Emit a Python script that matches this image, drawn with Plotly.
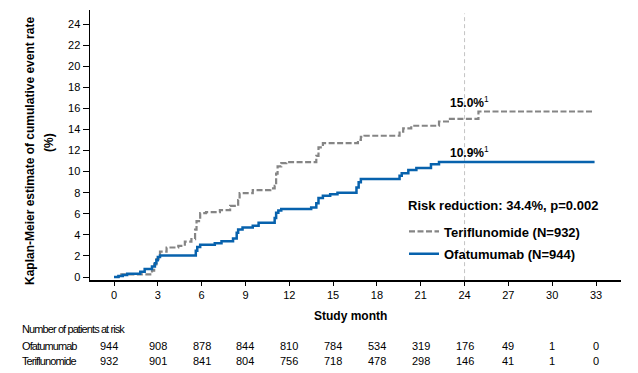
import plotly.graph_objects as go

# ---------------- data ----------------
ofa_t = [0.0, 0.3, 0.6, 0.9, 1.8, 2.1, 2.6, 2.8, 2.9, 3.0, 3.15, 5.6, 5.7, 5.9, 6.9, 7.36, 8.15, 8.4, 8.5, 8.8,
         9.5, 9.9, 11.0, 11.1, 11.25, 11.45, 13.5, 13.85, 14.0, 14.3, 14.8, 15.3, 16.6, 16.75, 16.9,
         19.55, 19.7, 20.15, 20.7, 21.7, 22.25, 32.9]
ofa_v = [0.0, 0.1, 0.2, 0.3, 0.5, 0.75, 1.0, 1.3, 1.6, 1.9, 2.05, 2.5, 2.85, 3.05, 3.2, 3.4, 3.65, 4.2, 4.5, 4.7,
         4.85, 5.15, 5.6, 6.1, 6.3, 6.45, 6.6, 7.0, 7.5, 7.7, 7.85, 8.0, 8.5, 9.0, 9.3,
         9.6, 9.85, 10.15, 10.35, 10.7, 10.9, 10.9]

ter_t = [0.0, 0.5, 2.6, 2.75, 2.9, 3.05, 3.15, 3.6, 4.4, 4.85, 5.3, 5.55, 5.65, 5.9, 6.3, 7.25, 7.95, 8.5, 8.6,
         9.5, 10.7, 11.0, 11.1, 11.2, 11.45, 11.8, 13.85, 14.0, 14.3, 16.7, 16.9, 17.15, 19.55, 19.8, 20.35,
         22.25, 23.0, 24.95, 32.8]
ter_v = [0.0, 0.25, 0.6, 1.2, 1.7, 2.1, 2.4, 2.8, 2.95, 3.35, 3.6, 4.5, 5.3, 6.05, 6.15, 6.35, 6.75, 7.3, 7.95,
         8.25, 8.4, 8.65, 9.8, 10.5, 10.8, 10.9, 11.5, 12.3, 12.7, 13.0, 13.3, 13.4, 13.8, 14.1, 14.35,
         14.75, 15.0, 15.7, 15.7]

risk_months = [0, 3, 6, 9, 12, 15, 18, 21, 24, 27, 30, 33]
risk_ofa = [944, 908, 878, 844, 810, 784, 534, 319, 176, 49, 1, 0]
risk_ter = [932, 901, 841, 804, 756, 718, 478, 298, 146, 41, 1, 0]

x_ticks = list(range(0, 34, 3))
y_ticks = list(range(0, 25, 2))

ofa_name = "Ofatumumab (N=944)"
ter_name = "Teriflunomide (N=932)"
legend_title = "Risk reduction: 34.4%, p=0.002"
ofa_label = "10.9%"
ter_label = "15.0%"
ofa_label_val = 10.9
ter_label_val = 15.0
landmark = 24

# ---------------- layout constants ----------------
W, H = 638, 373
L, R, T, B = 90, 17, 10, 93
PW = W - L - R
PH = H - T - B
BLUE = "#0762ad"
GRAY = "#858585"
FONT = "Arial, Liberation Sans, sans-serif"


def px(xp):
    return (xp - L) / PW


def py(yp):
    return (H - B - yp) / PH


fig = go.Figure()
fig.add_trace(go.Scatter(x=ter_t, y=ter_v, mode="lines", line_shape="hv", name=f"<b>{ter_name}</b>",
                         legendgroup="ter", line=dict(color=GRAY, width=2.2, dash="6px,2.5px")))
fig.add_trace(go.Scatter(x=ofa_t, y=ofa_v, mode="lines", line_shape="hv", name=f"<b>{ofa_name}</b>",
                         legendgroup="ofa", line=dict(color=BLUE, width=2.5)))

fig.add_shape(type="line", xref="x", yref="y", x0=landmark, x1=landmark, y0=-0.3, y1=25.0,
              line=dict(color="#c4c4c4", width=1, dash="4px,3px"), layer="below")

ann = []
ann.append(dict(x=landmark - 1.1, y=ter_label_val + 1.6, xref="x", yref="y", xanchor="left", yanchor="middle",
                text=f"<b>{ter_label}</b><sup>1</sup>", showarrow=False,
                font=dict(family=FONT, size=12, color="black")))
ann.append(dict(x=landmark - 1.1, y=ofa_label_val + 1.0, xref="x", yref="y", xanchor="left", yanchor="middle",
                text=f"<b>{ofa_label}</b><sup>1</sup>", showarrow=False,
                font=dict(family=FONT, size=12, color="black")))

# y-axis title (two lines)
ann.append(dict(x=px(30), y=py(151), xref="paper", yref="paper", textangle=-90,
                text="<b>Kaplan-Meier estimate of cumulative event rate</b>", showarrow=False,
                xanchor="center", yanchor="middle", font=dict(family=FONT, size=12, color="black")))
ann.append(dict(x=px(49), y=py(143), xref="paper", yref="paper", textangle=-90,
                text="<b>(%)</b>", showarrow=False,
                xanchor="center", yanchor="middle", font=dict(family=FONT, size=12, color="black")))
# x-axis title
ann.append(dict(x=px(350), y=py(316), xref="paper", yref="paper", text="<b>Study month</b>",
                showarrow=False, xanchor="center", yanchor="middle",
                font=dict(family=FONT, size=12, color="black")))
# legend heading
ann.append(dict(x=px(406), y=py(205), xref="paper", yref="paper", text=f"<b>{legend_title}</b>",
                showarrow=False, xanchor="left", yanchor="middle",
                font=dict(family=FONT, size=13, color="black")))
# risk table
narrow_start = len(ann)
ann.append(dict(x=px(20), y=py(329), xref="paper", yref="paper", text="Number of patients at risk",
                showarrow=False, xanchor="left", yanchor="middle",
                font=dict(family=FONT, size=11, color="black")))
ann.append(dict(x=px(20), y=py(346), xref="paper", yref="paper", text="Ofatumumab",
                showarrow=False, xanchor="left", yanchor="middle",
                font=dict(family=FONT, size=11, color="black")))
ann.append(dict(x=px(20), y=py(361), xref="paper", yref="paper", text="Teriflunomide",
                showarrow=False, xanchor="left", yanchor="middle",
                font=dict(family=FONT, size=11, color="black")))
narrow_idx = [narrow_start, narrow_start + 1, narrow_start + 2]
for i, m in enumerate(risk_months):
    shift = -5 if i == 0 else 0
    ann.append(dict(x=m, y=py(346), xref="x", yref="paper", text=str(risk_ofa[i]), showarrow=False,
                    xanchor="center", yanchor="middle", xshift=shift,
                    font=dict(family=FONT, size=11, color="black")))
    ann.append(dict(x=m, y=py(361), xref="x", yref="paper", text=str(risk_ter[i]), showarrow=False,
                    xanchor="center", yanchor="middle", xshift=shift,
                    font=dict(family=FONT, size=11, color="black")))

fig.update_layout(
    width=W, height=H, autosize=False,
    margin=dict(l=L, r=R, t=T, b=B, pad=0),
    paper_bgcolor="white", plot_bgcolor="white",
    font=dict(family=FONT, size=11, color="black"),
    annotations=ann,
    showlegend=True,
    legend=dict(x=px(404), y=py(216.5), xanchor="left", yanchor="top", bgcolor="rgba(0,0,0,0)",
                font=dict(family=FONT, size=13, color="black"), itemwidth=30,
                traceorder="grouped", tracegroupgap=2.5),
    xaxis=dict(range=[-1.643, 34.71], tickvals=x_ticks, ticks="outside", ticklen=4, tickwidth=1,
               tickcolor="black", showline=True, linecolor="black", linewidth=1.5, showgrid=False,
               zeroline=False, tickfont=dict(family=FONT, size=11, color="black")),
    yaxis=dict(range=[-0.285, 25.33], tickvals=y_ticks, ticks="outside", ticklen=6, tickwidth=1,
               tickcolor="black", showline=True, linecolor="black", linewidth=1.5, showgrid=False,
               zeroline=False, tickfont=dict(family=FONT, size=11, color="black")),
)

js = "document.body.style.margin='0';document.body.style.overflow='hidden';"
js += ("setTimeout(function(){[%s].forEach(function(i){"
       "var t=document.querySelector('.annotation[data-index=\"'+i+'\"] text');"
       "if(t){var bb=t.getBBox();var x0=bb.x;t.style.letterSpacing='-0.9px';"
       "t.setAttribute('text-anchor','start');t.setAttribute('x',x0);}"
       "});},50);") % ",".join(str(i) for i in narrow_idx)
fig.write_html("out.html", post_script=js, config={"displayModeBar": False, "staticPlot": True})
